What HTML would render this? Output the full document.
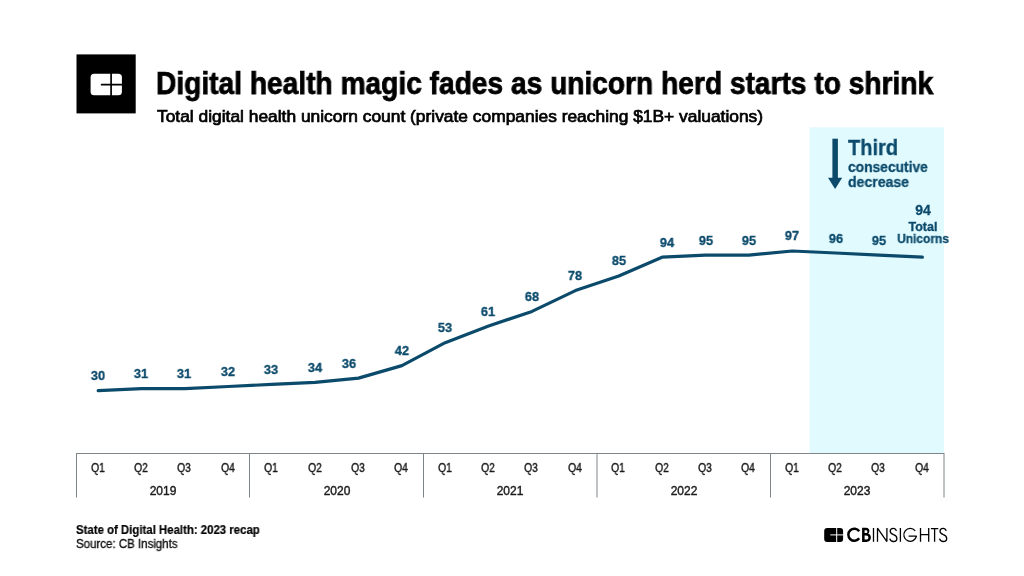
<!DOCTYPE html>
<html><head><meta charset="utf-8">
<style>
*{margin:0;padding:0;box-sizing:border-box}
html,body{width:1024px;height:576px;background:#fff;overflow:hidden}
body{position:relative;font-family:"Liberation Sans",sans-serif;color:#000}
.a{position:absolute;white-space:nowrap;line-height:1;will-change:transform}
#title{left:155.8px;top:67.6px;font-size:30.5px;font-weight:bold;color:#000;transform-origin:0 0;transform:scaleX(0.9226);-webkit-text-stroke:0.75px #000}
#sub{left:157px;top:108px;font-size:16.5px;font-weight:normal;color:#000;transform-origin:0 0;transform:scaleX(1.053);-webkit-text-stroke:0.7px #000}
.lbl{font-size:13.4px;font-weight:bold;color:#0c4a6b;-webkit-text-stroke:0.35px #0c4a6b;text-align:center;width:40px;margin-left:-20px;transform:scaleX(0.95)}
.q{font-size:12px;color:#1a1a1a;-webkit-text-stroke:0.4px #1a1a1a;text-align:center;width:30px;margin-left:-15.6px;transform:scaleX(0.86)}
.yr{font-size:12px;color:#1a1a1a;-webkit-text-stroke:0.4px #1a1a1a;text-align:center;width:60px;margin-left:-30px}
#f1{left:76px;top:524px;font-size:12px;font-weight:bold;color:#000;-webkit-text-stroke:0.2px #000;transform-origin:0 0;transform:scaleX(0.95)}
#f2{left:76px;top:537.6px;font-size:12px;color:#111;-webkit-text-stroke:0.35px #111;transform-origin:0 0;transform:scaleX(0.958)}
.ann{color:#0c4a6b;font-weight:bold;-webkit-text-stroke:0.3px #0c4a6b}
</style></head><body>
<svg width="1024" height="576" style="position:absolute;left:0;top:0">
  <rect x="809.6" y="127.4" width="134.4" height="325.6" fill="#e0fafe"/>
  <rect x="76.5" y="54.4" width="59.2" height="59" fill="#000"/>
  <rect x="90.6" y="73.7" width="31.3" height="21.6" rx="3.6" fill="#fff"/>
  <line x1="101.6" y1="84.7" x2="123" y2="84.7" stroke="#000" stroke-width="1.7" stroke-linecap="round"/>
  <line x1="111.1" y1="73" x2="111.1" y2="96" stroke="#000" stroke-width="1.7"/>
  <g stroke="#7d8588" stroke-width="1" fill="none">
    <line x1="76" y1="453.5" x2="944.5" y2="453.5"/>
    <line x1="76.5" y1="454" x2="76.5" y2="497.5"/>
    <line x1="249.5" y1="454" x2="249.5" y2="497.5"/>
    <line x1="423.5" y1="454" x2="423.5" y2="497.5"/>
    <line x1="597" y1="454" x2="597" y2="497.5"/>
    <line x1="770.5" y1="454" x2="770.5" y2="497.5"/>
    <line x1="944" y1="454" x2="944" y2="497.5"/>
  </g>
  <polyline fill="none" stroke="#0b4a6b" stroke-width="3.2" stroke-linecap="round" stroke-linejoin="round" points="98.2,390.6 141.6,388.6 185.0,388.6 228.3,386.5 271.7,384.4 315.1,382.3 358.5,378.1 401.9,365.6 445.2,342.7 488.6,326.0 532.0,311.4 575.4,290.6 618.8,276.0 662.1,257.2 705.5,255.1 748.9,255.1 792.3,251.0 835.7,253.0 879.0,255.1 922.4,257.2"/>
  <rect x="832.4" y="138.7" width="5.5" height="40" fill="#0c4a6b"/>
  <polygon points="828,177.8 842.2,177.8 835.1,188.9" fill="#0c4a6b"/>
  <rect x="824.2" y="527.9" width="18.9" height="14" rx="3" fill="#000"/>
  <line x1="830.3" y1="534.9" x2="843.5" y2="534.9" stroke="#fff" stroke-width="1"/>
  <line x1="836.7" y1="527.5" x2="836.7" y2="542.5" stroke="#fff" stroke-width="1"/>
  <path d="M859.2,531.2 A6,6 0 1 0 859.2,538.3" fill="none" stroke="#000" stroke-width="2.5"/>
  <path fill="#000" fill-rule="evenodd" d="M862.1,527.8 H866.2 C868.1,527.8 869.4,529.1 869.4,530.9 C869.4,532.1 868.8,533 867.9,533.5 C869.8,534 870.9,535.4 870.9,537.5 C870.9,540.1 869.1,541.9 866.4,541.9 H862.1 Z M864.6,530.2 V533.1 H866 C866.9,533.1 867.4,532.5 867.4,531.7 C867.4,530.8 866.9,530.2 866,530.2 Z M864.6,535.4 V539.6 H866.2 C867.6,539.6 868.4,538.8 868.4,537.5 C868.4,536.2 867.6,535.4 866.2,535.4 Z"/>
  <g fill="none" stroke="#000" stroke-width="1.3" stroke-linejoin="bevel">
    <line x1="873.5" y1="528" x2="873.5" y2="541.8"/>
    <path d="M877.5,541.8 V528.2 L886.9,541.6 V528"/>
    <path d="M896.4,530.9 C895.8,529.1 894.7,528.4 893.3,528.4 C891.4,528.4 890.2,529.7 890.2,531.3 C890.2,533.2 891.8,534 893.5,534.7 C895.4,535.4 896.9,536.3 896.9,538.4 C896.9,540.3 895.4,541.5 893.4,541.5 C891.6,541.5 890.3,540.5 889.7,538.6"/>
    <line x1="900.4" y1="528" x2="900.4" y2="541.8"/>
    <path d="M915.2,530.8 A6.4,6.4 0 1 0 916.5,536.2 H908.6"/>
    <path d="M920.5,528 V541.8 M928.7,528 V541.8 M920.5,534.7 H928.7"/>
    <path d="M930.9,528.6 H938.3 M934.6,528.6 V541.8"/>
    <path transform="translate(49.8,0)" d="M896.4,530.9 C895.8,529.1 894.7,528.4 893.3,528.4 C891.4,528.4 890.2,529.7 890.2,531.3 C890.2,533.2 891.8,534 893.5,534.7 C895.4,535.4 896.9,536.3 896.9,538.4 C896.9,540.3 895.4,541.5 893.4,541.5 C891.6,541.5 890.3,540.5 889.7,538.6"/>
  </g>
</svg>
<div id="title" class="a">Digital health magic fades as unicorn herd starts to shrink</div>
<div id="sub" class="a">Total digital health unicorn count (private companies reaching $1B+ valuations)</div>
<div class="a ann" style="left:847.5px;top:136.5px;font-size:22.5px;transform-origin:0 0;transform:scaleX(0.89)">Third</div>
<div class="a ann" style="left:847.5px;top:160.0px;font-size:14.5px;transform-origin:0 0;transform:scaleX(0.952)">consecutive</div>
<div class="a ann" style="left:847.5px;top:175.2px;font-size:14.5px;transform-origin:0 0;transform:scaleX(0.97)">decrease</div>
<div class="a ann" style="left:922.6px;top:203.2px;font-size:14px;width:60px;margin-left:-30px;text-align:center">94</div>
<div class="a ann" style="left:922.6px;top:220.9px;font-size:12.5px;width:80px;margin-left:-40px;text-align:center">Total</div>
<div class="a ann" style="left:922.5px;top:233.0px;font-size:12.5px;width:80px;margin-left:-40px;text-align:center;transform:scaleX(0.955)">Unicorns</div>
<div class="a lbl" style="left:98.0px;top:369.1px">30</div>
<div class="a lbl" style="left:140.9px;top:367.0px">31</div>
<div class="a lbl" style="left:184.0px;top:367.0px">31</div>
<div class="a lbl" style="left:228.3px;top:364.9px">32</div>
<div class="a lbl" style="left:271.3px;top:362.9px">33</div>
<div class="a lbl" style="left:314.5px;top:360.8px">34</div>
<div class="a lbl" style="left:349.1px;top:356.6px">36</div>
<div class="a lbl" style="left:401.9px;top:344.1px">42</div>
<div class="a lbl" style="left:445.2px;top:321.2px">53</div>
<div class="a lbl" style="left:487.7px;top:304.5px">61</div>
<div class="a lbl" style="left:532.0px;top:289.9px">68</div>
<div class="a lbl" style="left:575.4px;top:269.0px">78</div>
<div class="a lbl" style="left:618.8px;top:254.4px">85</div>
<div class="a lbl" style="left:667.3px;top:235.7px">94</div>
<div class="a lbl" style="left:705.9px;top:233.6px">95</div>
<div class="a lbl" style="left:748.9px;top:233.6px">95</div>
<div class="a lbl" style="left:792.3px;top:229.4px">97</div>
<div class="a lbl" style="left:835.7px;top:231.5px">96</div>
<div class="a lbl" style="left:879.3px;top:233.6px">95</div>
<div class="a q" style="left:98.2px;top:461.7px">Q1</div>
<div class="a q" style="left:141.6px;top:461.7px">Q2</div>
<div class="a q" style="left:185.0px;top:461.7px">Q3</div>
<div class="a q" style="left:228.3px;top:461.7px">Q4</div>
<div class="a q" style="left:271.7px;top:461.7px">Q1</div>
<div class="a q" style="left:315.1px;top:461.7px">Q2</div>
<div class="a q" style="left:358.5px;top:461.7px">Q3</div>
<div class="a q" style="left:401.9px;top:461.7px">Q4</div>
<div class="a q" style="left:445.2px;top:461.7px">Q1</div>
<div class="a q" style="left:488.6px;top:461.7px">Q2</div>
<div class="a q" style="left:532.0px;top:461.7px">Q3</div>
<div class="a q" style="left:575.4px;top:461.7px">Q4</div>
<div class="a q" style="left:618.8px;top:461.7px">Q1</div>
<div class="a q" style="left:662.1px;top:461.7px">Q2</div>
<div class="a q" style="left:705.5px;top:461.7px">Q3</div>
<div class="a q" style="left:748.9px;top:461.7px">Q4</div>
<div class="a q" style="left:792.3px;top:461.7px">Q1</div>
<div class="a q" style="left:835.7px;top:461.7px">Q2</div>
<div class="a q" style="left:879.0px;top:461.7px">Q3</div>
<div class="a q" style="left:922.4px;top:461.7px">Q4</div>
<div class="a yr" style="left:163.3px;top:484.6px">2019</div>
<div class="a yr" style="left:336.8px;top:484.6px">2020</div>
<div class="a yr" style="left:510.3px;top:484.6px">2021</div>
<div class="a yr" style="left:683.8px;top:484.6px">2022</div>
<div class="a yr" style="left:857.4px;top:484.6px">2023</div>
<div id="f1" class="a">State of Digital Health: 2023 recap</div>
<div id="f2" class="a">Source: CB Insights</div>
</body></html>
